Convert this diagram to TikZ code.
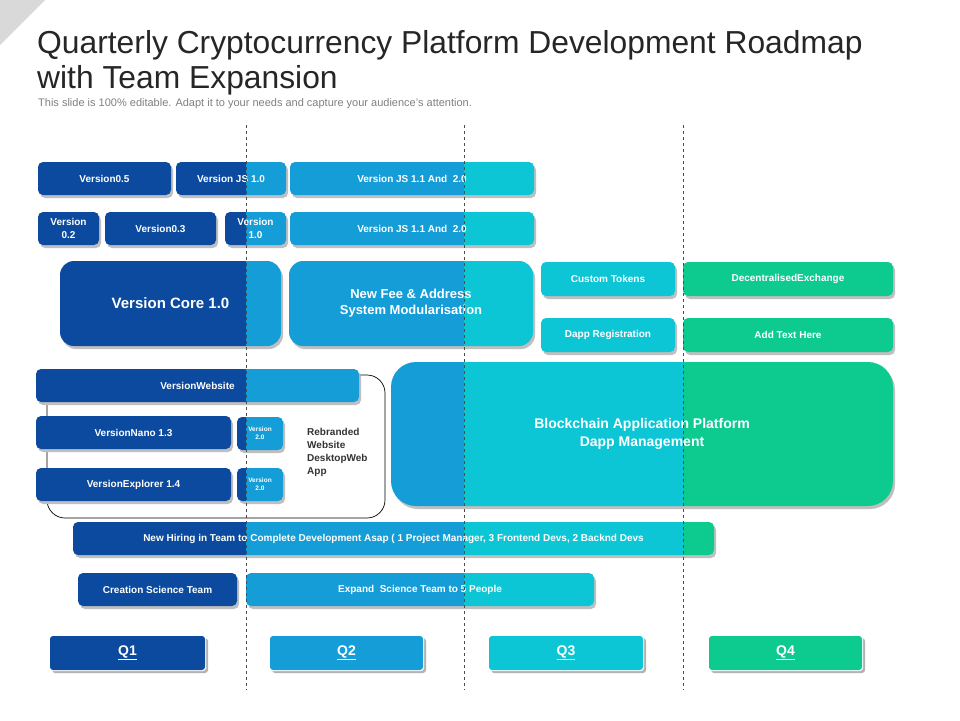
\documentclass[tikz,border=0pt]{standalone}
\usepackage{fontspec}
\setmainfont{Liberation Sans}
\definecolor{qa}{HTML}{0B4A9E}
\definecolor{qb}{HTML}{159DD8}
\definecolor{qc}{HTML}{0CC6D6}
\definecolor{qd}{HTML}{0DCB8E}
\newcommand\rbox[8][10]{%
 \fill[black!25,rounded corners=#2] (#3+2,#4+3) rectangle (#5+2,#6+3);
 \begin{scope}
 \clip[rounded corners=#2] (#3,#4) rectangle (#5,#6);
 \fill[qa] (0,0) rectangle (246,720);
 \fill[qb] (246,0) rectangle (464,720);
 \fill[qc] (464,0) rectangle (683,720);
 \fill[qd] (683,0) rectangle (960,720);
 \end{scope}
 \node[lbl,font=\bfseries\fontsize{#1}{\dimexpr #1pt*5/4\relax}\selectfont] (#8) at ({(#3+#5)/2},{(#4+#6)/2}) {#7};}
\begin{document}
\begin{tikzpicture}[x=1pt,y=-1pt,
 lbl/.style={text=white,align=center,inner sep=0pt},
 qbox/.style={text=white,font=\bfseries\fontsize{14}{16}\selectfont,inner sep=0pt},
 divl/.style={black!70,dashed,line width=0.6pt}]
\useasboundingbox (0,0) rectangle (960,720);
\fill[white] (0,0) rectangle (960,720);
\fill[black!15] (0,0) -- (45,0) -- (0,45) -- cycle;
\node[anchor=west,font=\fontsize{31.8}{34}\selectfont,text=black!85,inner sep=0pt] (t1) at (37,45) {Quarterly Cryptocurrency Platform Development Roadmap};
\node[anchor=west,font=\fontsize{31.8}{34}\selectfont,text=black!85,inner sep=0pt] (t2) at (37,80) {with Team Expansion};
\node[anchor=west,font=\fontsize{11}{12}\selectfont,text=black!50,inner sep=0pt] (t3) at (38,104) {This slide is 100\% editable. Adapt it to your needs and capture your audience's attention.};
% bracket
\draw[black,line width=0.7pt,rounded corners=18] (47,375) rectangle (385,518);
\rbox{5}{38}{162}{171}{195}{Version0.5}{a1}
\rbox{5}{176}{162}{286}{195}{Version JS 1.0}{a2}
\rbox{5}{290}{162}{534}{195}{Version JS 1.1 And \ 2.0}{a3}
\rbox{5}{38}{212}{99}{245}{Version\\0.2}{b1}
\rbox{5}{105}{212}{216}{245}{Version0.3}{b2}
\rbox{5}{225}{212}{286}{245}{Version\\1.0}{b3}
\rbox{5}{290}{212}{534}{245}{Version JS 1.1 And \ 2.0}{b4}
\rbox[15]{14}{60}{261}{281}{346}{Version Core 1.0}{c1}
\rbox[13]{14}{289}{261}{533}{346}{New Fee \& Address\\System Modularisation}{c2}
\rbox{5}{541}{262}{675}{296}{Custom Tokens}{c3}
\rbox{5}{683}{262}{893}{296}{DecentralisedExchange}{c4}
\rbox{5}{541}{318}{675}{352}{Dapp Registration}{c5}
\rbox{5}{683}{318}{893}{352}{Add Text Here}{c6}
\rbox{5}{36}{369}{359}{402}{VersionWebsite}{d1}
\rbox{5}{36}{416}{231}{449}{VersionNano 1.3}{d2}
\rbox{5}{36}{468}{231}{501}{VersionExplorer 1.4}{d3}
\rbox[6.5]{5}{237}{417}{283}{450}{Version\\2.0}{d4}
\rbox[6.5]{5}{237}{468}{283}{501}{Version\\2.0}{d5}
\node[anchor=north west,align=left,font=\bfseries\fontsize{10}{13}\selectfont,text=black!80,inner sep=0pt] (rb) at (307,428) {Rebranded\\Website\\DesktopWeb\\App};
\rbox[14]{25}{391}{362}{893}{506}{Blockchain Application Platform\\Dapp Management}{e1}
\rbox{5}{73}{522}{714}{555}{New Hiring in Team to Complete Development Asap ( 1 Project Manager, 3 Frontend Devs, 2 Backnd Devs}{f1}
\rbox{5}{78}{573}{237}{606}{Creation Science Team}{g1}
\rbox{5}{246}{573}{594}{606}{Expand \ Science Team to 5 People}{g2}
% quarters
\foreach \xa/\xb/\c/\t in {50/205/qa/Q1,270/423/qb/Q2,489/643/qc/Q3,709/862/qd/Q4}{
 \fill[black!30,rounded corners=3] (\xa+2,638) rectangle (\xb+3,673);
 \fill[white,rounded corners=3] (\xa-1,635) rectangle (\xb+1,671);
 \fill[\c,rounded corners=3] (\xa,636) rectangle (\xb,670);
 \node[qbox] (\t) at ({(\xa+\xb)/2},653) {\underline{\t}};}
% dividers
\foreach \x in {246,464,683}{\draw[divl] (\x,125) -- (\x,690);}
\end{tikzpicture}
\end{document}
